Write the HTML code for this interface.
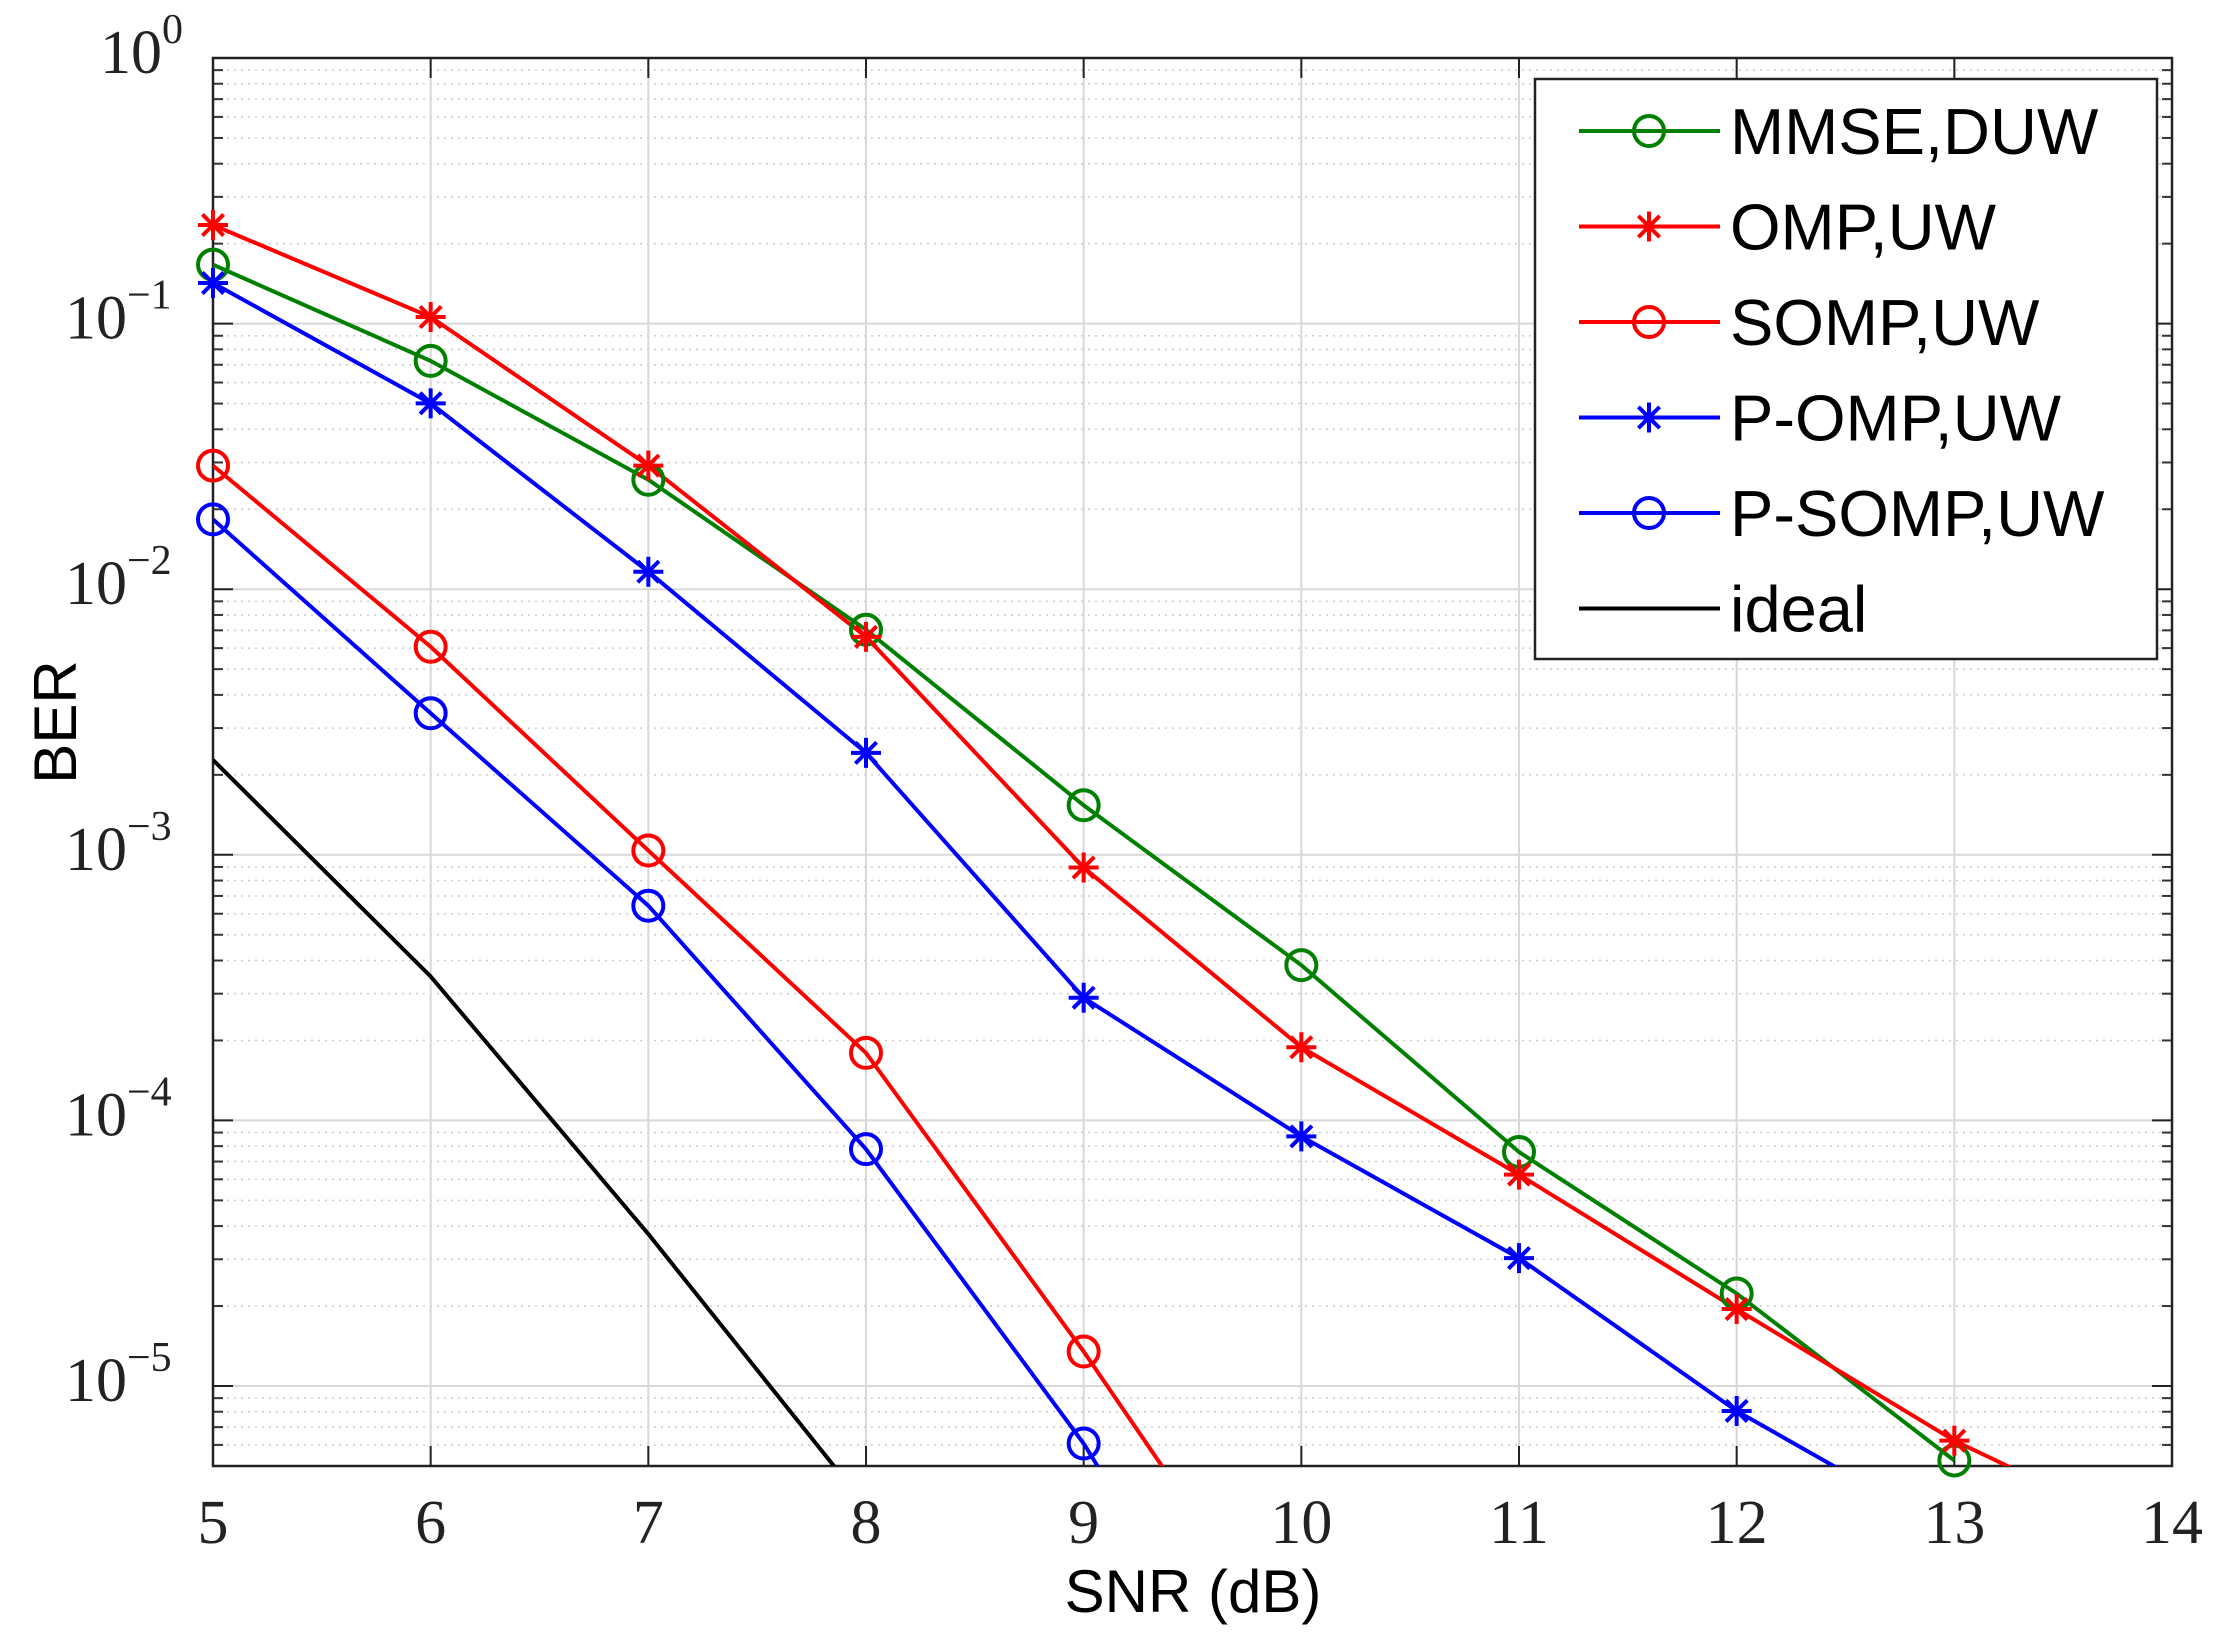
<!DOCTYPE html>
<html><head><meta charset="utf-8"><style>
html,body{margin:0;padding:0;background:#fff;}
svg{display:block;}
.tk{font-family:"Liberation Serif",serif;font-size:62px;fill:#222;}
.sp{font-family:"Liberation Serif",serif;font-size:42px;fill:#222;}
.lg{font-family:"Liberation Sans",sans-serif;font-size:65px;fill:#000;}
</style></head><body>
<svg id="s" width="2219" height="1647" xmlns="http://www.w3.org/2000/svg"></svg>
<script>
const S=document.getElementById('s');
const L=213,R=2172,T=58,B=1466,D=265.6,XU=(R-L)/9;
let h='';
const X=v=>L+(v-5)*XU, Y=e=>T+(-e)*D;
h+='<defs><clipPath id="c"><rect x="'+L+'" y="'+T+'" width="'+(R-L)+'" height="'+(B-T)+'"/></clipPath></defs>';
// minor grid
for(let k=0;k<6;k++)for(let m=2;m<=9;m++){const y=Y(-k-1+Math.log10(m));if(y>B||y<T)continue;
h+=`<line x1="${L}" x2="${R}" y1="${y}" y2="${y}" stroke="#ccc" stroke-width="1.5" stroke-dasharray="2,5"/>`;
h+=`<line x1="${L}" x2="${L+10}" y1="${y}" y2="${y}" stroke="#333" stroke-width="2"/><line x1="${R-10}" x2="${R}" y1="${y}" y2="${y}" stroke="#333" stroke-width="2"/>`;}
// major grid
for(let i=5;i<=14;i++){const x=X(i);h+=`<line x1="${x}" x2="${x}" y1="${T}" y2="${B}" stroke="#d8d8d8" stroke-width="2"/>`;
h+=`<line x1="${x}" x2="${x}" y1="${B-20}" y2="${B}" stroke="#222" stroke-width="2"/><line x1="${x}" x2="${x}" y1="${T}" y2="${T+20}" stroke="#222" stroke-width="2"/>`;
h+=`<text class="tk" x="${x}" y="1543" text-anchor="middle">${i}</text>`;}
for(let e=0;e>=-5;e--){const y=Y(e);h+=`<line x1="${L}" x2="${R}" y1="${y}" y2="${y}" stroke="#d8d8d8" stroke-width="2"/>`;
h+=`<line x1="${L}" x2="${L+20}" y1="${y}" y2="${y}" stroke="#222" stroke-width="2"/><line x1="${R-20}" x2="${R}" y1="${y}" y2="${y}" stroke="#222" stroke-width="2"/>`;
const lab=e==0?'0':'−'+(-e);
h+=`<text x="${e==0?100:65}" y="${y+15}"><tspan class="tk">10</tspan><tspan class="sp" dy="-30">${lab}</tspan></text>`;}
h+=`<rect x="${L}" y="${T}" width="${R-L}" height="${B-T}" fill="none" stroke="#222" stroke-width="2.5"/>`;
const f=1.4152;
const ser=[
{c:'#008000',m:'o',d:[[5,187],[6,255],[7,339],[8,445],[9,569],[10,682],[11,814],[12,914],[13,1032]]},
{c:'#ff0000',m:'*',d:[[5,159],[6,224],[7,329],[8,450],[9,613],[10,740],[11,830],[12,925],[13,1018],[13.3,1040]]},
{c:'#ff0000',m:'o',d:[[5,329],[6,457],[7,601],[8,744],[9,955],[9.4,1045]]},
{c:'#0000ff',m:'*',d:[[5,200],[6,285],[7,404],[8,532],[9,705],[10,803],[11,889],[12,997],[12.55,1045]]},
{c:'#0000ff',m:'o',d:[[5,367],[6,504],[7,640],[8,812],[9,1020],[9.1,1045]]},
{c:'#000',m:'',d:[[5,537],[6,690],[7,872],[7.9,1045]]}];
function mk(m,x,y,c){if(m=='o')return `<circle cx="${x}" cy="${y}" r="15" fill="none" stroke="${c}" stroke-width="4"/>`;
if(m=='*'){let s='';for(let a=0;a<180;a+=45){const r=a*Math.PI/180,dx=15*Math.sin(r),dy=15*Math.cos(r);s+=`<line x1="${x-dx}" y1="${y-dy}" x2="${x+dx}" y2="${y+dy}" stroke="${c}" stroke-width="4"/>`;}return s;}return '';}
let mks='';
ser.forEach(s=>{const p=s.d.map(([v,py])=>[X(v),py*f]);
h+=`<polyline clip-path="url(#c)" points="${p.map(q=>q.join(',')).join(' ')}" fill="none" stroke="${s.c}" stroke-width="4"/>`;
s.d.forEach(([v,py],i)=>{if(Number.isInteger(v))mks+=mk(s.m,X(v),py*f,s.c);});});
h+=mks;
// legend
h+=`<rect x="1535" y="79" width="622" height="580" fill="#fff" stroke="#222" stroke-width="2.5"/>`;
const lg=[['MMSE,DUW','#008000','o'],['OMP,UW','#ff0000','*'],['SOMP,UW','#ff0000','o'],['P-OMP,UW','#0000ff','*'],['P-SOMP,UW','#0000ff','o'],['ideal','#000','']];
lg.forEach((e,i)=>{const y=131+i*95.5;h+=`<line x1="1579" x2="1720" y1="${y}" y2="${y}" stroke="${e[1]}" stroke-width="4"/>`+mk(e[2],1649,y,e[1])+`<text class="lg" x="1730" y="${y+23}">${e[0]}</text>`;});
h+=`<text class="lg" style="font-size:60px" x="1193" y="1612" text-anchor="middle">SNR (dB)</text>`;
h+=`<text class="lg" style="font-size:60px" transform="translate(76,722) rotate(-90)" text-anchor="middle">BER</text>`;
S.innerHTML=h;
</script>
</body></html>
